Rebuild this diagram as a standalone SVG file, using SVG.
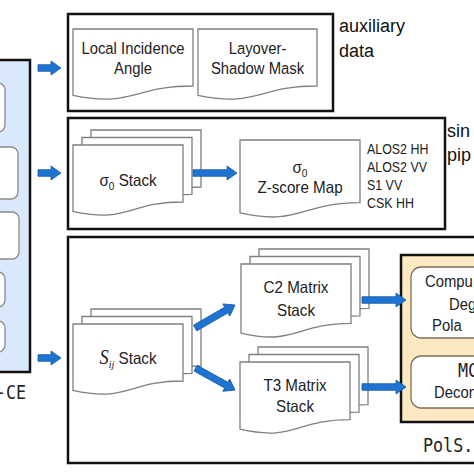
<svg xmlns="http://www.w3.org/2000/svg" width="474" height="474" viewBox="0 0 474 474">
<style>
.bg{fill:#ffffff}
.box{fill:#ffffff;stroke:#111111;stroke-width:2.5}
.panel{fill:#dae8fc;stroke:#111111;stroke-width:2.5}
.pol{fill:#fce9c2;stroke:#111111;stroke-width:2.5}
.inner{fill:#ffffff;stroke:#8a8a8a;stroke-width:1.3}
.inner2{fill:#ffffff;stroke:#7c7058;stroke-width:1.3}
.doc{fill:#ffffff;stroke:#7f7f7f;stroke-width:1.3}
.arr{fill:#1e74d0;stroke:#1559a6;stroke-width:0.8}
.t{font-family:"Liberation Sans",Arial,sans-serif;font-size:16.5px;fill:#222222}
.sm{font-size:13.8px}
.side{font-family:"Liberation Sans",Arial,sans-serif;font-size:18px;fill:#111111}
.mono{font-family:"DejaVu Sans Mono","Liberation Mono",monospace;font-size:19px;fill:#222222}
.sub{font-size:11px}
.it{font-family:"Liberation Serif","Times New Roman",serif;font-style:italic}
</style>
<rect class="bg" x="0" y="0" width="474" height="474"/>

<g id="source-panel">
  <rect class="panel" x="-20" y="60" width="50" height="312"/>
  <rect class="inner" x="-30" y="83" width="35" height="49" rx="7"/>
  <rect class="inner" x="-30" y="147" width="48" height="52" rx="7"/>
  <rect class="inner" x="-30" y="212" width="49" height="47" rx="7"/>
  <rect class="inner" x="-30" y="272" width="35" height="35" rx="7"/>
  <rect class="inner" x="-30" y="321" width="35" height="31" rx="7"/>
  <g transform="translate(26,399) scale(0.88,1)"><text class="mono" text-anchor="end">-CE</text></g>
</g>

<g id="aux-box">
  <rect class="box" x="68" y="14" width="265" height="97"/>
  <text class="side" x="339" y="32">auxiliary</text>
  <text class="side" x="339" y="57">data</text>
</g>
<g id="local-incidence">
  <path class="doc" d="M73,29 H193 V86 C133,86 133,107.6 73,95.3 Z"/>
  <g transform="translate(133,54) scale(0.9,1)"><text class="t" text-anchor="middle">Local Incidence</text></g>
  <g transform="translate(133,74) scale(0.9,1)"><text class="t" text-anchor="middle">Angle</text></g>
</g>
<g id="layover">
  <path class="doc" d="M198,29 H317 V86 C257.5,86 257.5,107.6 198,95.3 Z"/>
  <g transform="translate(257.5,54) scale(0.9,1)"><text class="t" text-anchor="middle">Layover-</text></g>
  <g transform="translate(257.5,74) scale(0.9,1)"><text class="t" text-anchor="middle">Shadow Mask</text></g>
</g>

<g id="single-box">
  <rect class="box" x="68" y="118" width="377" height="111"/>
  <text class="side" x="447" y="137">sin</text>
  <text class="side" x="447" y="161">pip</text>
</g>
<g id="sigma-stack">
  <path class="doc" d="M91,130 H201 V187 C146,187 146,208.6 91,196.3 Z"/>
  <path class="doc" d="M82,137.5 H192 V194.4 C137,194.4 137,216.2 82,203.9 Z"/>
  <path class="doc" d="M73,145 H183 V202 C128,202 128,223.5 73,211.3 Z"/>
  <g transform="translate(128,186) scale(0.92,1)"><text class="t" text-anchor="middle">σ<tspan class="sub" dy="4">0</tspan><tspan dy="-4"> Stack</tspan></text></g>
</g>
<g id="zscore">
  <path class="doc" d="M240,140 H360 V202.6 C300,202.6 300,226.3 240,212.9 Z"/>
  <g transform="translate(300,173) scale(0.92,1)"><text class="t" text-anchor="middle">σ<tspan class="sub" dy="4">0</tspan></text></g>
  <g transform="translate(300,193) scale(0.92,1)"><text class="t" text-anchor="middle">Z-score Map</text></g>
  <g transform="translate(367,154) scale(0.9,1)"><text class="t sm">ALOS2 HH</text></g>
  <g transform="translate(367,172) scale(0.9,1)"><text class="t sm">ALOS2 VV</text></g>
  <g transform="translate(367,190) scale(0.9,1)"><text class="t sm">S1 VV</text></g>
  <g transform="translate(367,208) scale(0.9,1)"><text class="t sm">CSK HH</text></g>
</g>

<g id="polsar-box">
  <rect class="box" x="68" y="237" width="420" height="226"/>
</g>
<g id="sij-stack">
  <path class="doc" d="M91,309 H201 V366 C146,366 146,387.6 91,375.3 Z"/>
  <path class="doc" d="M82,316.5 H192 V373.4 C137,373.4 137,395.1 82,382.8 Z"/>
  <path class="doc" d="M73,324 H183 V381 C128,381 128,402.6 73,390.3 Z"/>
  <g transform="translate(128,364) scale(0.92,1)"><text class="t" text-anchor="middle"><tspan class="it" font-size="20">S</tspan><tspan class="it sub" dy="4">ij</tspan><tspan dy="-4"> Stack</tspan></text></g>
</g>
<g id="c2-stack">
  <path class="doc" d="M259,249 H369 V308.3 C314,308.3 314,330.9 259,318.1 Z"/>
  <path class="doc" d="M250,256.5 H360 V315.8 C305,315.8 305,338.4 250,325.6 Z"/>
  <path class="doc" d="M241,264 H351 V323.3 C296,323.3 296,345.9 241,333.1 Z"/>
  <g transform="translate(296,293) scale(0.92,1)"><text class="t" text-anchor="middle">C2 Matrix</text></g>
  <g transform="translate(296,316) scale(0.92,1)"><text class="t" text-anchor="middle">Stack</text></g>
</g>
<g id="t3-stack">
  <path class="doc" d="M258,347 H368 V404.7 C313,404.7 313,426.7 258,414.2 Z"/>
  <path class="doc" d="M249,354.5 H359 V412.2 C304,412.2 304,434.2 249,421.7 Z"/>
  <path class="doc" d="M240,362 H350 V419.7 C295,419.7 295,441.7 240,429.2 Z"/>
  <g transform="translate(295,391) scale(0.92,1)"><text class="t" text-anchor="middle">T3 Matrix</text></g>
  <g transform="translate(295,412) scale(0.92,1)"><text class="t" text-anchor="middle">Stack</text></g>
</g>
<g id="polsar-module">
  <rect class="pol" x="401" y="255" width="100" height="167"/>
  <g transform="translate(423,452) scale(0.88,1)"><text class="mono">PolS.</text></g>
</g>
<g id="compute">
  <rect class="inner2" x="411" y="267" width="90" height="71" rx="10"/>
  <g transform="translate(425,287) scale(0.9,1)"><text class="t" font-size="17">Compu</text></g>
  <g transform="translate(449,310) scale(0.9,1)"><text class="t" font-size="17">Deg</text></g>
  <g transform="translate(432,331) scale(0.9,1)"><text class="t" font-size="17">Pola</text></g>
</g>
<g id="mc">
  <rect class="inner2" x="411" y="356" width="90" height="52" rx="10"/>
  <g transform="translate(458,377) scale(0.88,1)"><text class="mono" font-size="16">MC</text></g>
  <g transform="translate(434,398) scale(0.9,1)"><text class="t" font-size="17">Decom</text></g>
</g>

<g id="connectors">
  <path class="arr" transform="translate(61,68)" d="M-23,-3.3 H-10 V-7 L0,0 L-10,7 V3.3 H-23 Z"/>
  <path class="arr" transform="translate(61,173)" d="M-23,-3.3 H-10 V-7 L0,0 L-10,7 V3.3 H-23 Z"/>
  <path class="arr" transform="translate(61,358)" d="M-23,-3.3 H-10 V-7 L0,0 L-10,7 V3.3 H-23 Z"/>
  <path class="arr" transform="translate(237,173)" d="M-44,-3.3 H-10 V-7 L0,0 L-10,7 V3.3 H-44 Z"/>
  <path class="arr" transform="translate(406,300)" d="M-44,-3.3 H-10 V-7 L0,0 L-10,7 V3.3 H-44 Z"/>
  <path class="arr" transform="translate(406,387)" d="M-44,-3.3 H-10 V-7 L0,0 L-10,7 V3.3 H-44 Z"/>
  <path class="arr" transform="translate(235,305) rotate(-30)" d="M-46,-3.3 H-10 V-7 L0,0 L-10,7 V3.3 H-46 Z"/>
  <path class="arr" transform="translate(235,390) rotate(29)" d="M-45,-3.3 H-10 V-7 L0,0 L-10,7 V3.3 H-45 Z"/>
</g>
</svg>
